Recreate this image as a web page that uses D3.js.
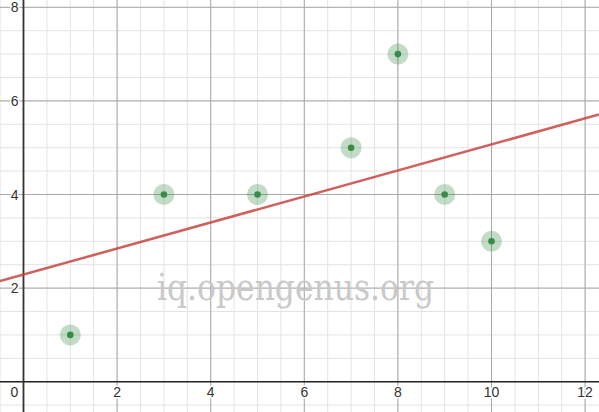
<!doctype html>
<html lang="en">
<head>
<title>scatter with fit line</title>
<script src="https://d3js.org/d3.v7.min.js"></script>
<style>
  body { margin: 0; background: #fff; }
  svg { display: block; }
  text { font-family: "Liberation Sans", Arial, sans-serif; }
</style>
</head>
<body>
<div id="chart"></div>
<script>
// data
var xs = [1, 3, 5, 7, 8, 9, 10];
var ys = [1, 4, 4, 5, 7, 4, 3];
// fitted line
var fitIntercept = 2.29;
var fitSlope = 0.278;
var xTickLabels = [0, 2, 4, 6, 8, 10, 12];
var yTickLabels = [2, 4, 6, 8];

var width = 599, height = 412;

var x = d3.scaleLinear().domain([-0.502, 12.297]).range([0, width]);
var y = d3.scaleLinear().domain([-0.647, 8.156]).range([height, 0]);

var svg = d3.select("#chart").append("svg")
  .attr("width", width)
  .attr("height", height);

// minor grid every 0.5
var minorX = d3.range(-0.5, 12.5, 0.5);
var minorY = d3.range(-0.5, 8.5, 0.5);
svg.append("g").selectAll("line").data(minorX).enter().append("line")
  .attr("x1", d => x(d)).attr("x2", d => x(d))
  .attr("y1", 0).attr("y2", height)
  .attr("stroke", "#e3e3e3").attr("stroke-width", 1);
svg.append("g").selectAll("line").data(minorY).enter().append("line")
  .attr("y1", d => y(d)).attr("y2", d => y(d))
  .attr("x1", 0).attr("x2", width)
  .attr("stroke", "#e3e3e3").attr("stroke-width", 1);

// major grid every 2
svg.append("g").selectAll("line").data(xTickLabels).enter().append("line")
  .attr("x1", d => x(d)).attr("x2", d => x(d))
  .attr("y1", 0).attr("y2", height)
  .attr("stroke", "#a8a8a8").attr("stroke-width", 1);
svg.append("g").selectAll("line").data(yTickLabels).enter().append("line")
  .attr("y1", d => y(d)).attr("y2", d => y(d))
  .attr("x1", 0).attr("x2", width)
  .attr("stroke", "#a8a8a8").attr("stroke-width", 1);

// watermark
svg.append("text")
  .attr("x", 157).attr("y", 300)
  .attr("textLength", 277)
  .attr("lengthAdjust", "spacingAndGlyphs")
  .style("font-family", "'DejaVu Serif', 'Liberation Serif', serif")
  .style("font-size", "38px")
  .style("fill", "#c9c9c9")
  .text("iq.opengenus.org");

// axes
svg.append("line")
  .attr("x1", 0).attr("x2", width)
  .attr("y1", y(0)).attr("y2", y(0))
  .attr("stroke", "#222").attr("stroke-width", 1.6);
svg.append("line")
  .attr("x1", x(0)).attr("x2", x(0))
  .attr("y1", 0).attr("y2", height)
  .attr("stroke", "#333").attr("stroke-width", 1.8);

// tick labels
svg.append("g").selectAll("text").data(xTickLabels).enter().append("text")
  .attr("x", d => d === 0 ? x(0) - 9 : x(d))
  .attr("y", y(0) + 15)
  .attr("text-anchor", "middle")
  .style("font-size", "14px")
  .style("fill", "#333")
  .style("paint-order", "stroke")
  .style("stroke", "#fff").style("stroke-width", 3)
  .text(d => d);
svg.append("g").selectAll("text").data(yTickLabels).enter().append("text")
  .attr("x", x(0) - 5)
  .attr("y", d => y(d) + 5)
  .attr("text-anchor", "end")
  .style("font-size", "14px")
  .style("fill", "#333")
  .style("paint-order", "stroke")
  .style("stroke", "#fff").style("stroke-width", 3)
  .text(d => d);

// fit line
var xDom = x.domain();
svg.append("line")
  .attr("x1", x(xDom[0])).attr("y1", y(fitIntercept + fitSlope * xDom[0]))
  .attr("x2", x(xDom[1])).attr("y2", y(fitIntercept + fitSlope * xDom[1]))
  .attr("stroke", "#c74440").attr("stroke-width", 2.5)
  .attr("stroke-opacity", 0.85);

// points
var pts = xs.map((d, i) => ({ x: d, y: ys[i] }));
svg.append("g").selectAll("circle").data(pts).enter().append("circle")
  .attr("cx", d => x(d.x)).attr("cy", d => y(d.y))
  .attr("r", 10.5)
  .attr("fill", "#388c46").attr("fill-opacity", 0.3);
svg.append("g").selectAll("circle").data(pts).enter().append("circle")
  .attr("cx", d => x(d.x)).attr("cy", d => y(d.y))
  .attr("r", 3.3)
  .attr("fill", "#388c46");
</script>
</body>
</html>
